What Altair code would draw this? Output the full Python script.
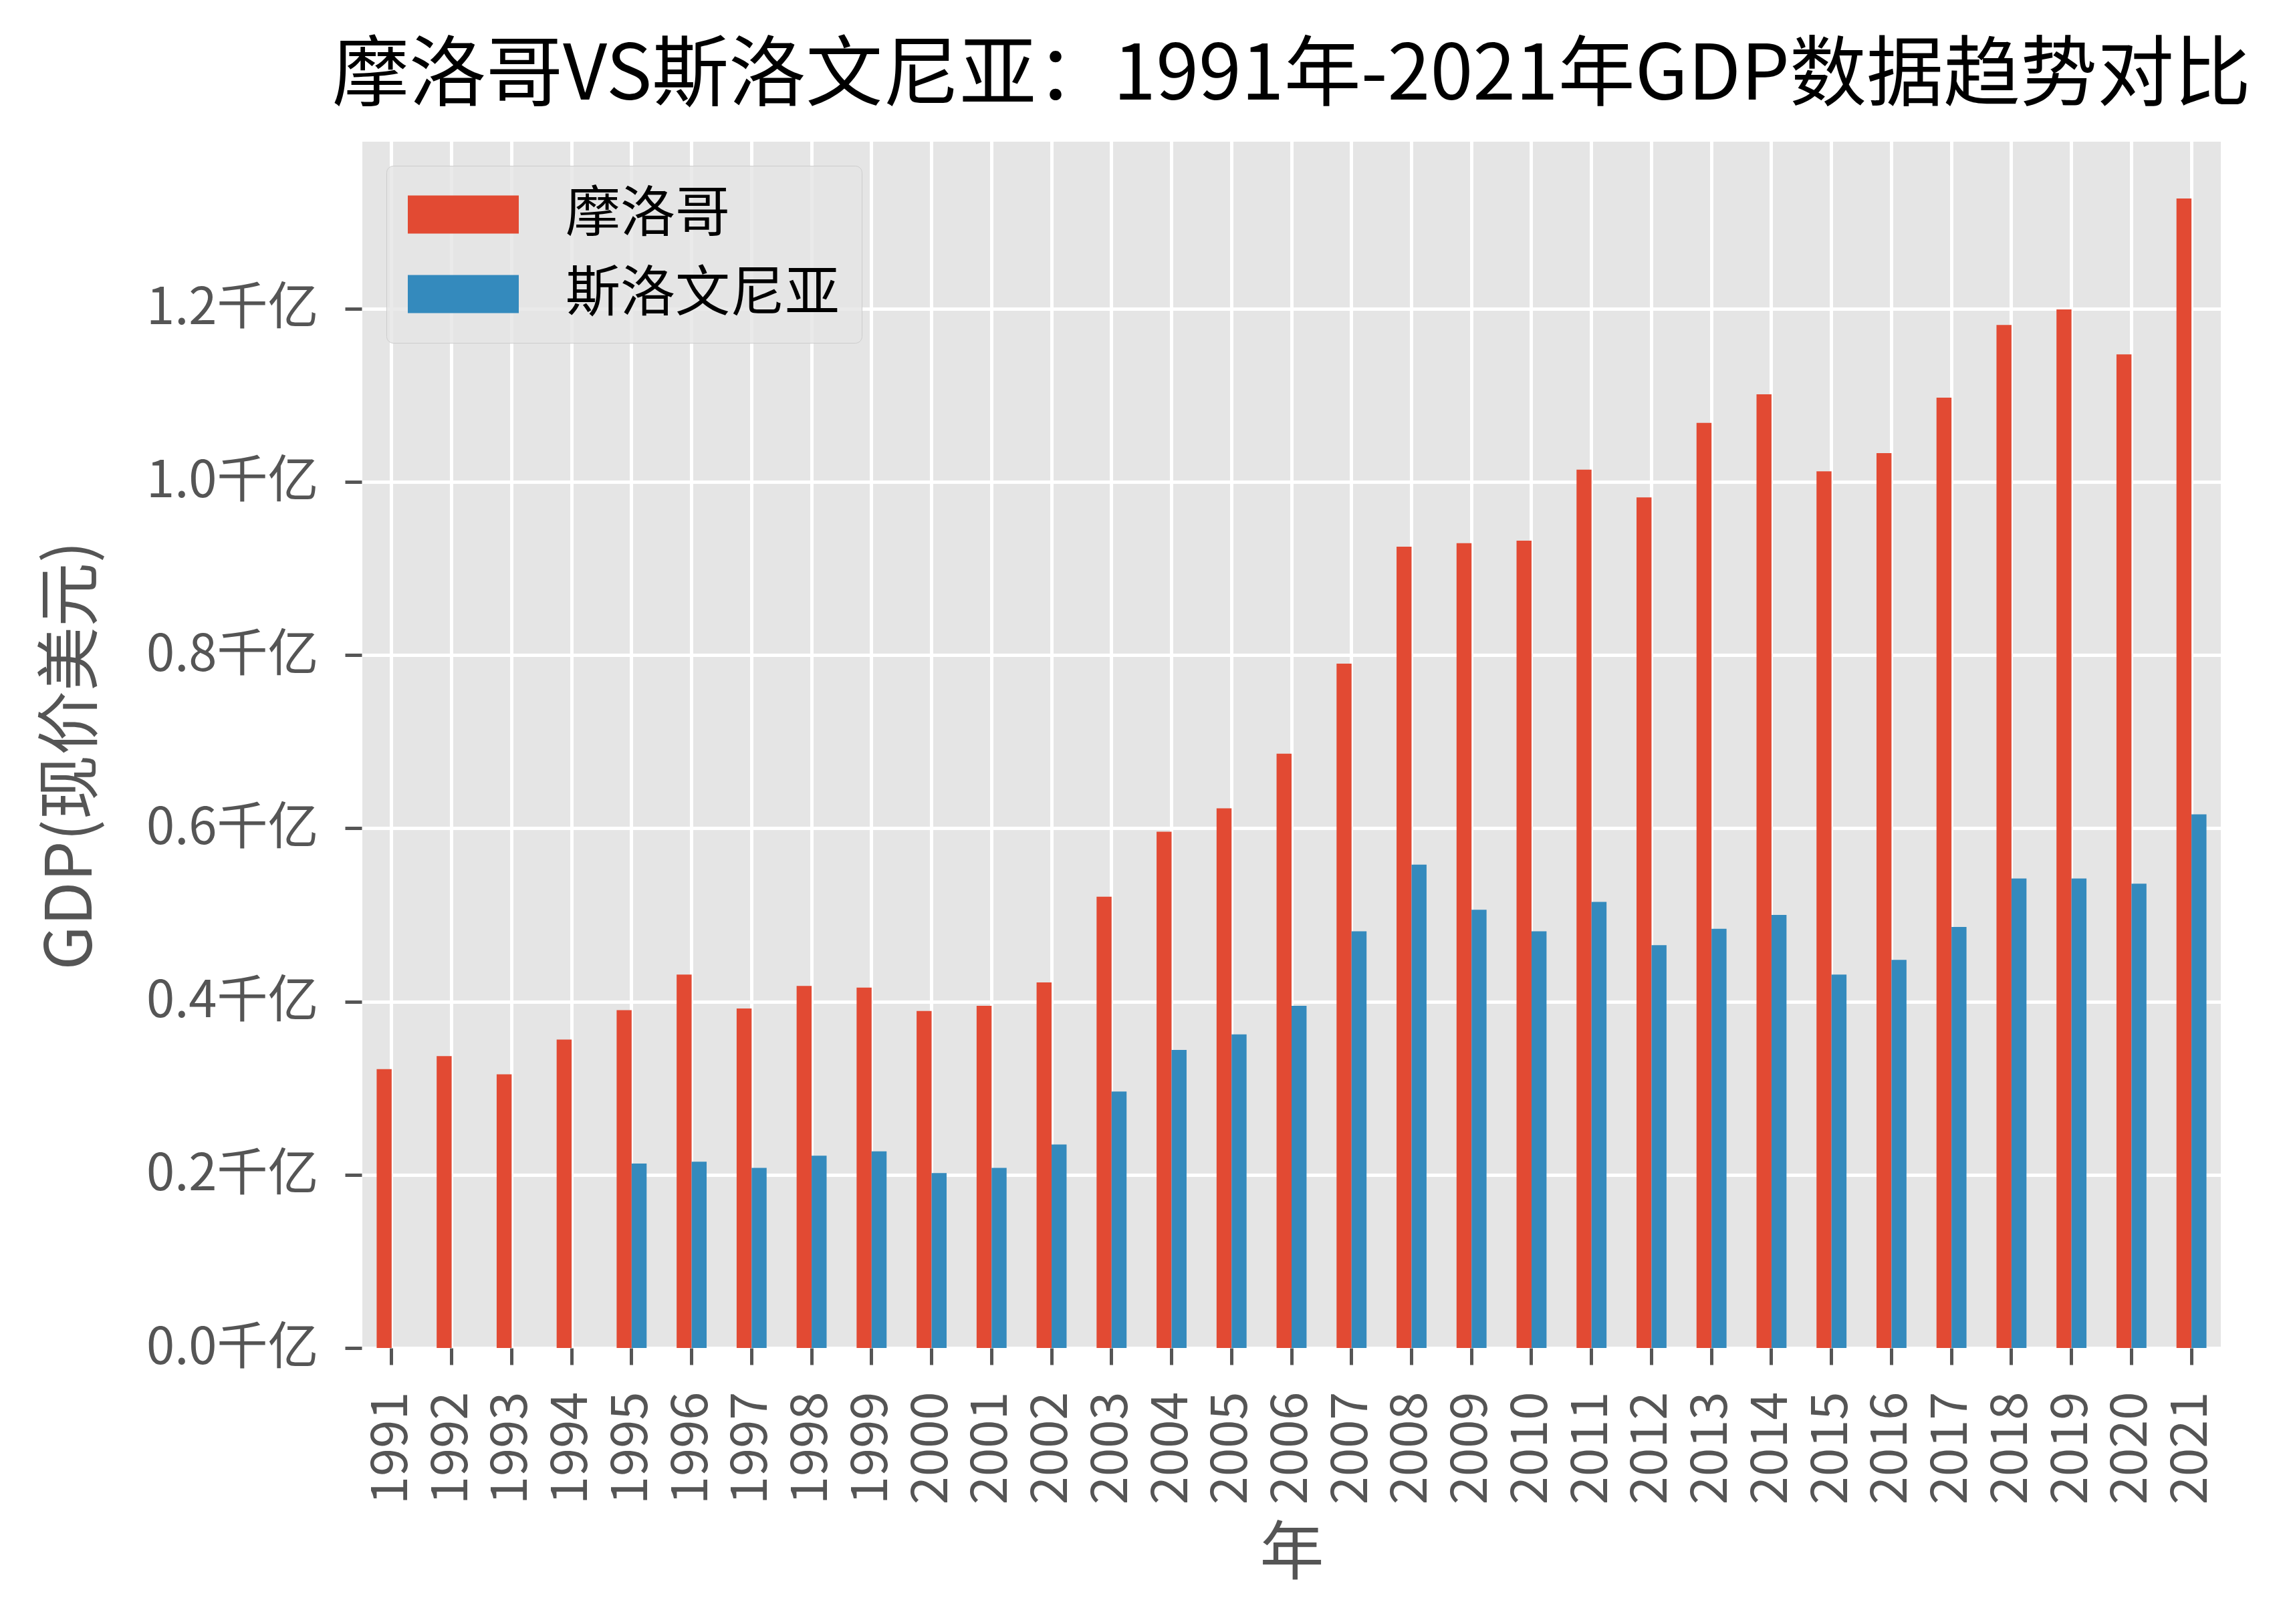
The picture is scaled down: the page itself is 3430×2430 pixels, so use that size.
import altair as alt
import pandas as pd

# ---- data (values in 千亿 US$) ----
years = list(range(1991, 2022))
countries = ["摩洛哥", "斯洛文尼亚"]
colors = ["#E24A33", "#348ABD"]
morocco = [0.322, 0.337, 0.316, 0.356, 0.390, 0.431, 0.392, 0.418, 0.416, 0.389,
           0.395, 0.422, 0.521, 0.596, 0.623, 0.686, 0.790, 0.925, 0.929, 0.932,
           1.014, 0.982, 1.068, 1.101, 1.012, 1.033, 1.097, 1.181, 1.199, 1.147,
           1.327]
slovenia = [None, None, None, None, 0.213, 0.215, 0.208, 0.222, 0.227, 0.202,
            0.208, 0.235, 0.296, 0.344, 0.362, 0.395, 0.481, 0.558, 0.506, 0.481,
            0.515, 0.465, 0.484, 0.500, 0.431, 0.448, 0.486, 0.542, 0.542, 0.536,
            0.616]
y_ticks = [0.0, 0.2, 0.4, 0.6, 0.8, 1.0, 1.2]
title_text = "摩洛哥VS斯洛文尼亚：1991年-2021年GDP数据趋势对比"

rows = []
for yr, m, s in zip(years, morocco, slovenia):
    rows.append({"年": str(yr), "国家": countries[0], "GDP": m})
    if s is not None:
        rows.append({"年": str(yr), "国家": countries[1], "GDP": s})
df = pd.DataFrame(rows)

FONT = "Noto Sans CJK SC"
LEFT, TOP = 541, 211
W, H = 2782, 1806
ymax = max(morocco) * 1.05
GRID = "white"
PANEL = "#E5E5E5"

LEG_FS = 82
half = LEG_FS / 2
sym_path = f"M{-83/half:.4f},{-28.5/half:.4f}H{83/half:.4f}V{28.5/half:.4f}H{-83/half:.4f}Z"

chart = alt.Chart(df).mark_bar().encode(
    x=alt.X(
        "年:O",
        sort=[str(y) for y in years],
        scale=alt.Scale(paddingInner=0.5, paddingOuter=0.25),
        axis=alt.Axis(
            title="年", labelAngle=-90, bandPosition=0.5,
            tickSize=25, tickWidth=5, tickColor="#555555",
            labelPadding=40, labelFontSize=76, labelColor="#555555", labelFont=FONT,
            labelLimit=0,
            titleFontSize=96, titleColor="#555555", titleFont=FONT, titleFontWeight="normal",
            titleX=W / 2, titleY=308, titleBaseline="middle", titleAlign="center",
            grid=True, gridColor=GRID, gridWidth=5, gridOpacity=1, domain=False,
        ),
    ),
    xOffset=alt.XOffset("国家:N", scale=alt.Scale(domain=countries, paddingInner=0, paddingOuter=0)),
    y=alt.Y(
        "GDP:Q",
        scale=alt.Scale(domain=[0, ymax], nice=False, zero=True),
        axis=alt.Axis(
            values=y_ticks,
            labelExpr="format(datum.value, '.1f') + '千亿'",
            title="GDP(现价美元)",
            tickSize=25, tickWidth=5, tickColor="#555555",
            labelPadding=40, labelFontSize=76, labelColor="#555555", labelFont=FONT,
            labelLimit=0,
            titleFontSize=96, titleColor="#555555", titleFont=FONT, titleFontWeight="normal",
            titleX=107 - LEFT, titleY=919, titleAngle=-90,
            titleBaseline="middle", titleAlign="center",
            grid=True, gridColor=GRID, gridWidth=5, gridOpacity=1, domain=False,
        ),
    ),
    color=alt.Color(
        "国家:N",
        scale=alt.Scale(domain=countries, range=colors),
        legend=alt.Legend(
            title=None, orient="none", legendX=37, legendY=37,
            symbolType=sym_path, symbolSize=LEG_FS * LEG_FS, symbolOffset=42,
            symbolStrokeWidth=0, symbolOpacity=1,
            labelOffset=112, labelFontSize=LEG_FS, labelFont=FONT, labelColor="black",
            labelLimit=0,
            rowPadding=37, padding=32,
            fillColor="rgba(229,229,229,0.8)", strokeColor="#cccccc",
            cornerRadius=10,
        ),
    ),
).properties(
    width=W,
    height=H,
    view=alt.ViewBackground(fill=PANEL, fillOpacity=1, stroke="white", strokeWidth=2),
    title=alt.TitleParams(
        text=title_text, fontSize=115, font=FONT, color="black",
        anchor="middle", frame="group", baseline="alphabetic", offset=55, dy=108,
        fontWeight="normal",
    ),
    autosize=alt.AutoSizeParams(type="none"),
    padding={"left": LEFT, "top": TOP, "right": 3430 - LEFT - W, "bottom": 2430 - TOP - H},
).configure_view(
    fill=PANEL, fillOpacity=1, stroke="white", strokeWidth=2,
).configure_legend(
    strokeWidth=3,
).configure(background="white")

chart.save("out.html", embed_options={"renderer": "svg", "actions": False})
